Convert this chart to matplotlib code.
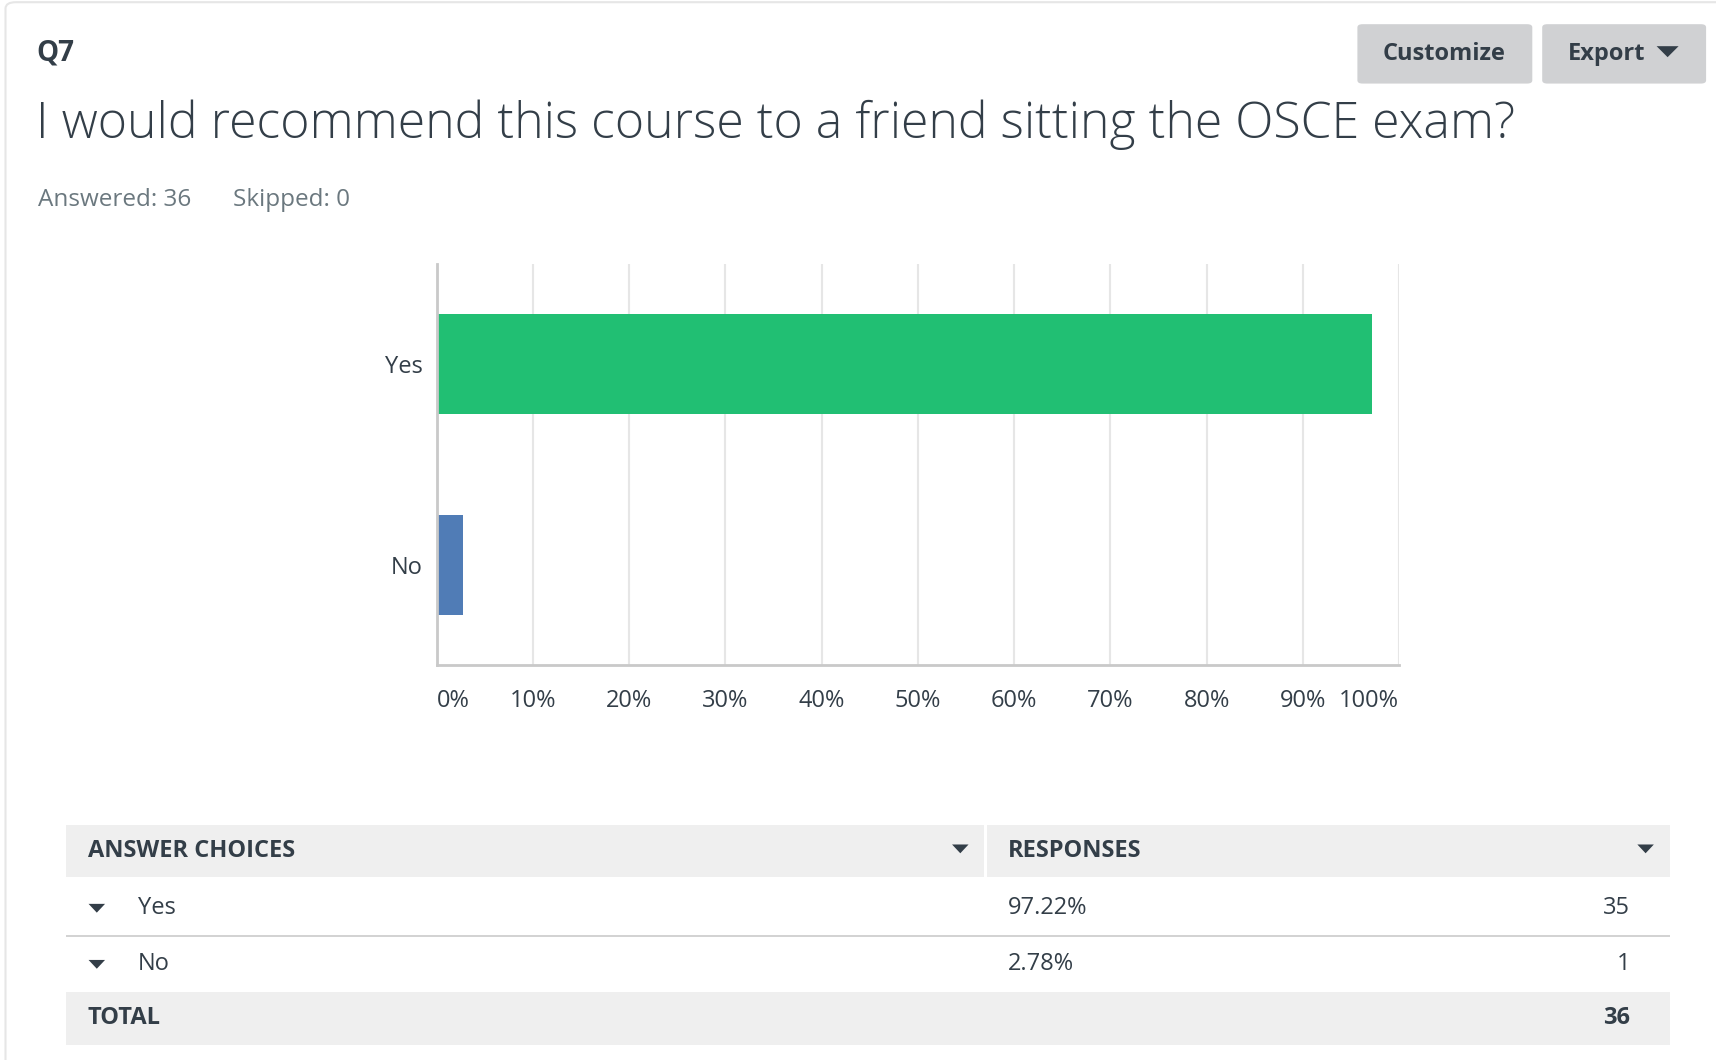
import matplotlib.pyplot as plt
from matplotlib.patches import Rectangle, FancyBboxPatch, Polygon

# survey data
question = 'Q7'
title = 'I would recommend this course to a friend sitting the OSCE exam?'
answered = 36
skipped = 0
choices = ['Yes', 'No']
percents = [97.22, 2.78]
counts = [35, 1]
bar_colors = ['#21bf73', '#507cb6']
xticks = [0, 10, 20, 30, 40, 50, 60, 70, 80, 90, 100]

plt.rcParams['font.family'] = ['Open Sans', 'DejaVu Sans']
dark = '#333e48'
grey = '#6b787f'

# layout measured on a 1560 x 964 grid, scaled to figure fractions
W, H = 1560.0, 964.0
def fx(x):
    return x / W
def fy(y):
    return 1 - y / H

fig = plt.figure(figsize=(17.16, 10.60), dpi=100)

def box(x0, y0, x1, y1, color, rounded=False):
    if rounded:
        p = FancyBboxPatch((fx(x0), fy(y1)), fx(x1) - fx(x0), fy(y0) - fy(y1),
                           boxstyle='round,pad=0,rounding_size=0.003',
                           transform=fig.transFigure, facecolor=color, edgecolor='none')
    else:
        p = Rectangle((fx(x0), fy(y1)), fx(x1) - fx(x0), fy(y0) - fy(y1),
                      transform=fig.transFigure, facecolor=color, edgecolor='none')
    fig.add_artist(p)

def caret(cx, cy, w=15, h=8):
    pts = [(fx(cx - w / 2), fy(cy - h / 2)), (fx(cx + w / 2), fy(cy - h / 2)), (fx(cx), fy(cy + h / 2))]
    fig.add_artist(Polygon(pts, closed=True, transform=fig.transFigure, facecolor=dark, edgecolor='none'))

# card border
card = FancyBboxPatch((fx(5), fy(1100)), fx(1700), fy(2) - fy(1100),
                      boxstyle='round,pad=0,rounding_size=0.006',
                      transform=fig.transFigure, facecolor='none', edgecolor='#e6e6e6', lw=1.5)
fig.add_artist(card)

# header
fig.text(fx(33), fy(48), question, fontsize=20, fontweight='bold', color=dark, va='center')
fig.text(fx(33), fy(113), title, fontsize=36, fontweight='light', color=dark, va='center')
fig.text(fx(35), fy(182), 'Answered: %d' % answered, fontsize=17.5, color=grey, va='center')
fig.text(fx(212), fy(182), 'Skipped: %d' % skipped, fontsize=17.5, color=grey, va='center')

box(1234, 22, 1393, 76, '#d0d1d3', rounded=True)
box(1402, 22, 1551, 76, '#d0d1d3', rounded=True)
fig.text(fx(1313), fy(49), 'Customize', fontsize=17, fontweight='bold', color=dark, ha='center', va='center')
fig.text(fx(1425), fy(49), 'Export', fontsize=17, fontweight='bold', color=dark, ha='left', va='center')
caret(1516, 47, w=20, h=10)

# bar chart
ax = fig.add_axes([fx(397), fy(605), fx(1272) - fx(397), fy(240) - fy(605)])
ax.barh(range(len(choices)), percents, height=0.5, color=bar_colors, zorder=3)
ax.set_ylim(1.5, -0.5)
ax.set_xlim(0, 100)
ax.set_yticks(range(len(choices)))
ax.set_yticklabels(choices)
ax.set_xticks(xticks)
ax.set_xticklabels(['%d%%' % t for t in xticks])
labels = ax.get_xticklabels()
labels[0].set_horizontalalignment('left')
labels[-1].set_horizontalalignment('right')
ax.grid(axis='x', color='#e6e6e6', lw=1.5, zorder=0)
ax.tick_params(axis='x', length=0, pad=17, labelsize=17, labelcolor=dark)
ax.tick_params(axis='y', length=0, pad=10, labelsize=17, labelcolor=dark)
for s in ['top', 'right']:
    ax.spines[s].set_visible(False)
for s in ['left', 'bottom']:
    ax.spines[s].set_color('#c9c9c9')
    ax.spines[s].set_linewidth(2)
ax.spines['left'].set_zorder(4)

# table
box(60, 750, 1518, 798, '#efefef')
box(895, 750, 897, 798, 'white')
fig.text(fx(80), fy(774), 'ANSWER CHOICES', fontsize=17, fontweight='bold', color=dark, va='center')
fig.text(fx(916), fy(774), 'RESPONSES', fontsize=17, fontweight='bold', color=dark, va='center')
caret(873, 772)
caret(1496, 772)

row_y = [826, 877]
for i in range(len(choices)):
    y = row_y[i]
    caret(88, y, w=15, h=8)
    fig.text(fx(125), fy(y), choices[i], fontsize=17, color=dark, va='center')
    fig.text(fx(916), fy(y), '%.2f%%' % percents[i], fontsize=17, color=dark, va='center')
    fig.text(fx(1482), fy(y), str(counts[i]), fontsize=17, color=dark, ha='right', va='center')
box(60, 850, 1518, 852, '#d3d3d3')

box(60, 902, 1518, 950, '#efefef')
fig.text(fx(80), fy(926), 'TOTAL', fontsize=17, fontweight='bold', color=dark, va='center')
fig.text(fx(1482), fy(926), str(sum(counts)), fontsize=17, fontweight='bold', color=dark, ha='right', va='center')

fig.savefig('out.png', dpi=100, facecolor='white')
